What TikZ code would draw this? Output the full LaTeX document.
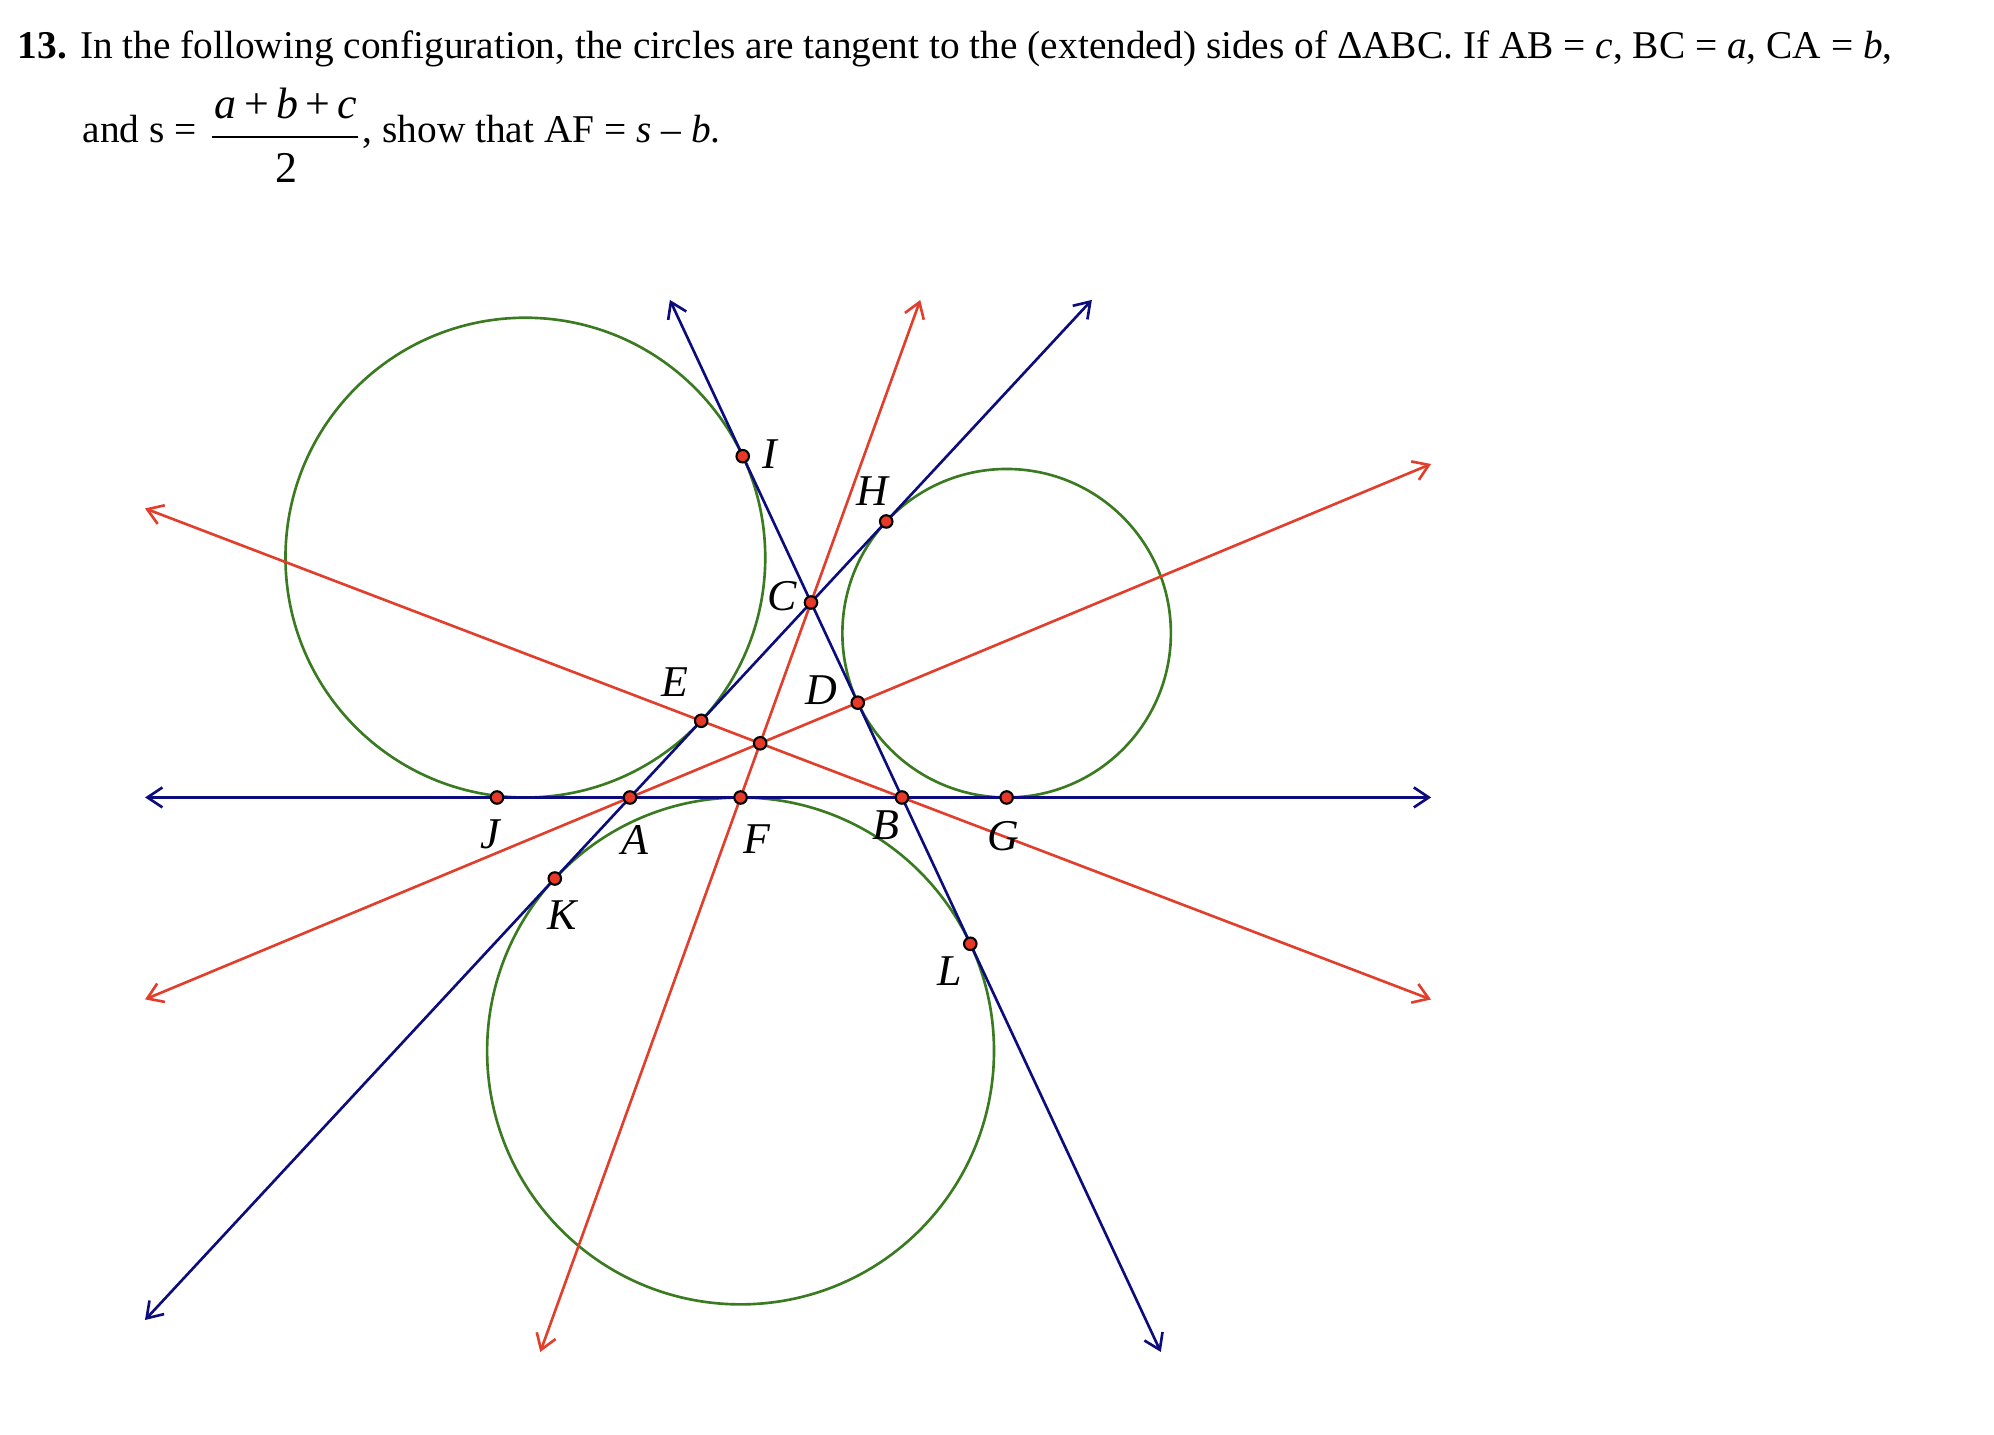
\documentclass[tikz,border=0pt]{standalone}
\usepackage{fontspec}
\setmainfont{Liberation Serif}
\usetikzlibrary{calc,arrows.meta,positioning}

\definecolor{navyline}{RGB}{12,12,125}
\definecolor{redline}{RGB}{226,62,44}
\definecolor{circgreen}{RGB}{58,122,32}
\definecolor{dotred}{RGB}{232,56,40}

\tikzset{
  sideline/.style={draw=navyline, line width=0.75pt,
    {Straight Barb[length=1.5mm,width=2mm]}-{Straight Barb[length=1.5mm,width=2mm]}},
  cevian/.style={sideline, draw=redline},
  excircle/.style={draw=circgreen, line width=0.75pt},
  dot/.style={circle, fill=dotred, draw=black, line width=0.6pt,
    inner sep=0pt, minimum size=1.25mm},
  lbl/.style={font=\fontsize{12.5}{14}\selectfont\itshape, inner sep=0pt},
  qtext/.style={anchor=base west, inner sep=0pt, font=\fontsize{11.2}{14}\selectfont},
  fracpart/.style={anchor=base, inner sep=0pt, font=\fontsize{12.5}{14}\selectfont}
}

\begin{document}
\begin{tikzpicture}
  \useasboundingbox (0,0) rectangle (19.94,14.34);

  % Problem statement
  \node[qtext] (q1) at (0.17,13.75) {\textbf{13.} In the following configuration, the circles are tangent to the (extended) sides of ΔABC. If AB = \textit{c}, BC = \textit{a}, CA = \textit{b},};
  \node[qtext] (q2) at (0.82,12.91) {and s =};
  \node[fracpart] (num) at (2.86,13.15) {\textit{a}\,+\,\textit{b}\,+\,\textit{c}};
  \node[fracpart] (den) at (2.86,12.51) {2};
  \draw[line width=0.5pt] (2.12,12.97) -- (3.58,12.97);
  \node[qtext] (q3) at (3.62,12.91) {, show that AF = \textit{s} – \textit{b}.};

  % Triangle ABC
  \coordinate (A) at (6.30,6.365);
  \coordinate (B) at (9.02,6.365);
  \coordinate (C) at (8.11,8.315);

  \pgfmathsetmacro\la{veclen(8.11-9.02,8.315-6.365)}
  \pgfmathsetmacro\lb{veclen(8.11-6.30,8.315-6.365)}
  \pgfmathsetmacro\lc{9.02-6.30}
  \pgfmathsetmacro\semi{(\la+\lb+\lc)/2}
  \pgfmathsetmacro\tA{\semi-\la}
  \pgfmathsetmacro\tB{\semi-\lb}
  \pgfmathsetmacro\tC{\semi-\lc}
  \pgfmathsetmacro\area{0.5*\lc*(8.315-6.365)}
  \pgfmathsetmacro\rA{\area/\tA}
  \pgfmathsetmacro\rB{\area/\tB}
  \pgfmathsetmacro\rC{\area/\tC}

  % Touch points
  \coordinate (F) at ($(A)!\tB cm!(B)$);
  \coordinate (G) at ($(A)!\semi cm!(B)$);
  \coordinate (T) at ($(A)!-\tC cm!(B)$);
  \coordinate (E) at ($(A)!\tC cm!(C)$);
  \coordinate (K) at ($(A)!-\tB cm!(C)$);
  \coordinate (H) at ($(C)!-\tB cm!(A)$);
  \coordinate (D) at ($(B)!\tC cm!(C)$);
  \coordinate (I) at ($(C)!-\tA cm!(B)$);
  \coordinate (L) at ($(B)!-\tA cm!(C)$);
  \coordinate (J) at (4.97,6.365);

  % Excircles
  \draw[excircle] ($(G)+(0,\rA)$) circle (\rA);
  \draw[excircle] ($(T)+(0,\rB)$) circle (\rB);
  \draw[excircle] ($(F)+(0,-\rC)$) circle (\rC);

  % Frame for the line ends
  \coordinate (nw) at (1.45,11.34);
  \coordinate (ne) at (14.31,11.34);
  \coordinate (sw) at (1.45,0.82);
  \coordinate (se) at (14.31,0.82);

  % Sides
  \draw[sideline] (intersection of A--B and nw--sw) -- (intersection of A--B and ne--se);
  \draw[sideline] (intersection of A--C and nw--sw) -- (intersection of A--C and nw--ne);
  \draw[sideline] (intersection of B--C and nw--ne) -- (intersection of B--C and sw--se);

  % Lines to the touch points
  \draw[cevian] (intersection of B--E and nw--sw) -- (intersection of B--E and ne--se);
  \draw[cevian] (intersection of A--D and nw--sw) -- (intersection of A--D and ne--se);
  \draw[cevian] (intersection of C--F and nw--ne) -- (intersection of C--F and sw--se);

  \coordinate (N) at (intersection of A--D and B--E);
  \node[dot] (dN) at (N) {};

  % Points and labels
  \foreach \p/\dx/\dy in {I/0.27/0.02, H/-0.14/0.30, C/-0.29/0.06, E/-0.26/0.39,
                          D/-0.36/0.13, J/-0.07/-0.37, A/0.05/-0.43, F/0.16/-0.42,
                          B/-0.16/-0.28, G/-0.03/-0.39, K/0.07/-0.37, L/-0.21/-0.27} {
    \node[dot] (d\p) at (\p) {};
    \node[lbl] (l\p) at ($(\p)+(\dx,\dy)$) {\p};
  }
\end{tikzpicture}
\end{document}
